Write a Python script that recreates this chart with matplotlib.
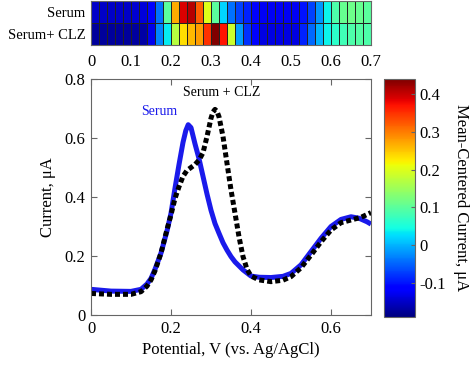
import numpy as np
import matplotlib
matplotlib.use("Agg")
import matplotlib.pyplot as plt
from matplotlib.colors import Normalize

plt.rcParams['font.family'] = ['Liberation Serif', 'DejaVu Serif']

# ---- data ----
potential_serum = [0.0, 0.05, 0.1, 0.125, 0.14, 0.15, 0.16, 0.175, 0.19, 0.2, 0.21, 0.22, 0.23,
                   0.237, 0.243, 0.25, 0.26, 0.27, 0.28, 0.29, 0.3, 0.31,
                   0.32, 0.33, 0.34, 0.35, 0.36, 0.38, 0.4, 0.42, 0.45, 0.48, 0.5, 0.525, 0.55, 0.575,
                   0.6, 0.625, 0.65, 0.67, 0.69, 0.7]
current_serum = [0.087, 0.081, 0.080, 0.087, 0.105, 0.124, 0.155, 0.21, 0.285, 0.345, 0.43, 0.51, 0.585,
                 0.625, 0.645, 0.635, 0.58, 0.53, 0.47, 0.41, 0.355, 0.31,
                 0.277, 0.245, 0.22, 0.198, 0.18, 0.153, 0.132, 0.128, 0.127, 0.131, 0.141, 0.17, 0.215, 0.26,
                 0.30, 0.324, 0.333, 0.328, 0.316, 0.308]

potential_clz = [0.0, 0.05, 0.1, 0.125, 0.14, 0.15, 0.16, 0.175, 0.19, 0.2, 0.21, 0.22, 0.23, 0.24,
                 0.25, 0.26, 0.27, 0.28, 0.29, 0.3, 0.305, 0.31, 0.315, 0.32, 0.33, 0.34, 0.35,
                 0.36, 0.37, 0.38, 0.39, 0.4, 0.42, 0.45, 0.48, 0.5, 0.525, 0.55, 0.575, 0.6,
                 0.625, 0.65, 0.675, 0.7]
current_clz = [0.073, 0.070, 0.070, 0.079, 0.098, 0.119, 0.15, 0.21, 0.29, 0.34, 0.395, 0.435, 0.47, 0.49,
               0.50, 0.51, 0.525, 0.55, 0.605, 0.667, 0.688, 0.697, 0.69, 0.672, 0.605, 0.514, 0.424,
               0.345, 0.265, 0.198, 0.155, 0.132, 0.119, 0.113, 0.118, 0.13, 0.16, 0.203, 0.248, 0.288,
               0.313, 0.322, 0.331, 0.347]

heat_rows = ['Serum', 'Serum+ CLZ']
heat_serum = [-0.15, -0.15, -0.15, -0.15, -0.15, -0.145, -0.14, -0.12, -0.04, 0.10,
              0.27, 0.39, 0.41, 0.32, 0.20, 0.10, 0.02, -0.04, -0.07, -0.09,
              -0.11, -0.125, -0.125, -0.125, -0.125, -0.125, -0.10, -0.07, -0.02, 0.04,
              0.09, 0.11, 0.115, 0.11, 0.10]
heat_clz = [-0.175, -0.175, -0.175, -0.175, -0.175, -0.172, -0.17, -0.13, -0.03, 0.035,
            0.17, 0.235, 0.26, 0.28, 0.35, 0.44, 0.37, 0.185, -0.015, -0.08,
            -0.11, -0.135, -0.135, -0.135, -0.135, -0.135, -0.09, -0.045, 0.0, 0.04,
            0.065, 0.08, 0.09, 0.095, 0.09]
heat_edges = np.linspace(0, 0.7, 36)
cbar_ticks = [-0.1, 0, 0.1, 0.2, 0.3, 0.4]
vmin, vmax = -0.19, 0.44

# ---- figure ----
fig = plt.figure(figsize=(4.74, 3.65), dpi=100)
frame = '#666666'

ax_h = fig.add_axes([0.192, 0.878, 0.5907, 0.118])
ax = fig.add_axes([0.192, 0.137, 0.5907, 0.6466])
cax = fig.add_axes([0.810, 0.1315, 0.0654, 0.652])

norm = Normalize(vmin=vmin, vmax=vmax)
Z = np.array([heat_clz, heat_serum])
mesh = ax_h.pcolormesh(heat_edges, [0, 1, 2], Z, cmap='jet', norm=norm,
                       edgecolors='#222222', linewidth=0.4)
ax_h.set_xlim(0, 0.7)
ax_h.set_ylim(0, 2)
ax_h.set_xticks(np.arange(0, 0.71, 0.1))
ax_h.set_xticklabels(['0', '0.1', '0.2', '0.3', '0.4', '0.5', '0.6', '0.7'])
ax_h.set_yticks([1.5, 0.5])
ax_h.set_yticklabels(heat_rows)
ax_h.tick_params(axis='x', length=0, pad=7, labelsize=12)
ax_h.tick_params(axis='y', length=0, pad=4, labelsize=10.5)
for s in ax_h.spines.values():
    s.set_color(frame)

ax.plot(potential_serum, current_serum, color='#1a1aeb', lw=3.6, solid_capstyle='butt',
        solid_joinstyle='round')
ax.plot(potential_clz, current_clz, color='black', lw=3.6, dashes=(1.0, 0.6))
ax.set_xlim(0, 0.7)
ax.set_ylim(0, 0.8)
ax.set_xticks([0, 0.2, 0.4, 0.6])
ax.set_xticklabels(['0', '0.2', '0.4', '0.6'])
ax.set_yticks([0, 0.2, 0.4, 0.6, 0.8])
ax.set_yticklabels(['0', '0.2', '0.4', '0.6', '0.8'])
ax.tick_params(direction='in', top=True, right=True, length=4, color=frame, labelsize=12, pad=4)
for s in ax.spines.values():
    s.set_color(frame)
ax.set_xlabel('Potential, V (vs. Ag/AgCl)', fontsize=12, labelpad=4)
ax.set_ylabel('Current, μA', fontsize=12, labelpad=6)
ax.text(0.3275, 0.755, 'Serum + CLZ', fontsize=10, ha='center', va='center', color='black')
ax.text(0.17, 0.69, 'Serum', fontsize=10, ha='center', va='center', color='#1a1aeb')

cb = fig.colorbar(mesh, cax=cax, ticks=cbar_ticks)
cb.ax.set_yticklabels(['-0.1', '0', '0.1', '0.2', '0.3', '0.4'])
cb.ax.tick_params(labelsize=12, length=3, direction='in', color=frame)
cb.outline.set_edgecolor(frame)
cb.set_label('Mean-Centered Current, μA', fontsize=12, rotation=-90, labelpad=16)

fig.savefig('out.png', dpi=100)
